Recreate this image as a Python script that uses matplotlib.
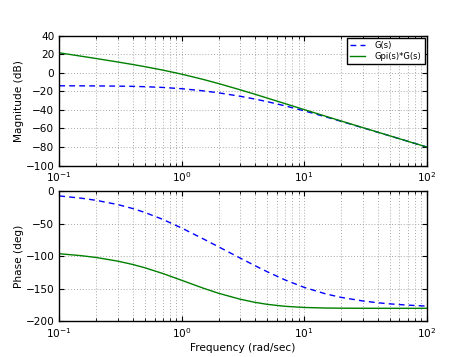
import matplotlib

matplotlib.use("Agg")
import matplotlib.pyplot as plt

freq = [0.1, 0.15, 0.2, 0.3, 0.4, 0.5, 0.7, 1, 1.5, 2, 3, 4, 5, 7,
        10, 15, 20, 30, 40, 50, 70, 100]

# G(s)
g_mag = [-14.02, -14.08, -14.16, -14.37, -14.65, -14.99, -15.80, -17.16,
         -19.47, -21.61, -25.31, -28.43, -31.14, -35.68, -41.01, -47.52,
         -52.32, -59.21, -64.15, -68.00, -73.83, -80.01]
g_phase = [-6.86, -10.25, -13.60, -20.13, -26.37, -32.28, -42.96, -56.31,
           -73.01, -85.24, -102.53, -114.62, -123.69, -136.33, -147.72,
           -157.76, -163.10, -168.63, -171.44, -173.14, -175.09, -176.57]

# Gpi(s)*G(s)
l_mag = [21.54, 17.96, 15.39, 11.66, 8.89, 6.62, 2.92, -1.48, -7.17,
         -11.61, -18.32, -23.31, -27.27, -33.29, -39.68, -46.88, -51.94,
         -59.04, -64.06, -67.94, -73.80, -79.99]
l_phase = [-95.91, -98.82, -101.69, -107.27, -112.56, -117.52, -126.31,
           -136.85, -148.97, -156.81, -165.96, -170.93, -173.88, -176.93,
           -178.68, -179.56, -179.80, -179.94, -179.97, -179.98, -179.99,
           -180.0]

mag_ticks = [-100, -80, -60, -40, -20, 0, 20, 40]
phase_ticks = [-200, -150, -100, -50, 0]

plt.rcParams["font.size"] = 7.6

fig, (ax1, ax2) = plt.subplots(2, 1, figsize=(4.74, 3.57), dpi=100)
fig.subplots_adjust(left=0.125, right=0.9, top=0.9, bottom=0.1, hspace=0.2)

dash = (4.2, 3.0)
ax1.semilogx(freq, g_mag, color="#0000ff", ls="--", dashes=dash, lw=1.0,
             label="G(s)")
ax1.semilogx(freq, l_mag, color="#008000", lw=1.0, label="Gpi(s)*G(s)")
ax1.set_ylim(-100, 40)
ax1.set_yticks(mag_ticks)
ax1.set_ylabel("Magnitude (dB)", labelpad=1)
leg = ax1.legend(loc="upper right", fontsize=6, fancybox=False, framealpha=1,
                 edgecolor="black", borderaxespad=0.25, borderpad=0.35,
                 labelspacing=0.3, handlelength=1.8, handletextpad=1.2)
leg.get_frame().set_linewidth(1.0)

ax2.semilogx(freq, g_phase, color="#0000ff", ls="--", dashes=dash, lw=1.0)
ax2.semilogx(freq, l_phase, color="#008000", lw=1.0)
ax2.set_ylim(-200, 0)
ax2.set_yticks(phase_ticks)
ax2.set_ylabel("Phase (deg)", labelpad=1)
ax2.set_xlabel("Frequency (rad/sec)", labelpad=2)

for ax in (ax1, ax2):
    ax.set_xlim(0.1, 100)
    ax.grid(True, which="both", color="#a8a8a8", linestyle=(0, (1, 2)),
            linewidth=0.7)
    ax.tick_params(which="both", direction="in", top=True, right=True)
    for spine in ax.spines.values():
        spine.set_linewidth(1.0)

fig.savefig("out.png")
plt.close(fig)
